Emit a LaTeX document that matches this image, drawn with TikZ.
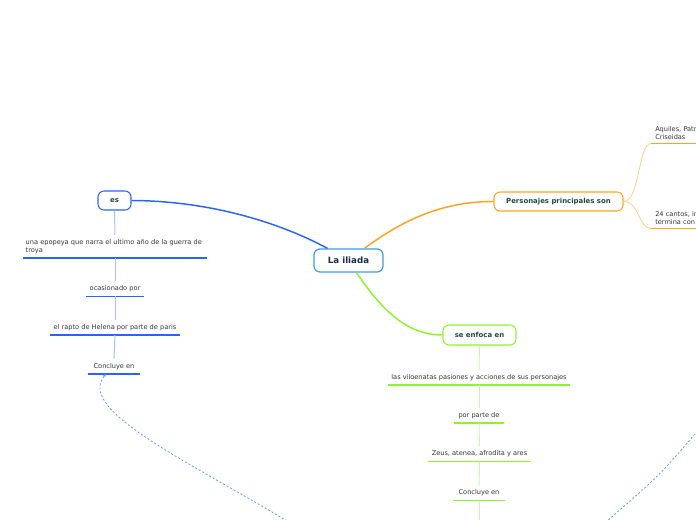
\documentclass[tikz,border=0pt]{standalone}
\usepackage{fontspec}
\setmainfont{DejaVu Sans}
\usetikzlibrary{arrows.meta}
\definecolor{cblue}{HTML}{2962FF}
\definecolor{lblue}{HTML}{A9C2FF}
\definecolor{corange}{HTML}{FFA21F}
\definecolor{lorange}{HTML}{FFCF80}
\definecolor{cgreen}{HTML}{8CF52A}
\definecolor{lgreen}{HTML}{C9F7A3}
\definecolor{cmain}{HTML}{3D9BE0}
\definecolor{tmain}{HTML}{1B2A4A}
\definecolor{tbold}{HTML}{1E4A3C}
\definecolor{tnorm}{HTML}{333333}
\definecolor{cdash}{HTML}{5C9EEB}
\begin{document}
\begin{tikzpicture}[x=0.75pt,y=-0.75pt,
 topic/.style={draw, rounded corners=4.5pt, line width=0.8pt, fill=white,
   font=\fontsize{5.2}{6}\selectfont\bfseries, text=tbold, inner sep=0pt, minimum height=14.25pt},
 sub/.style={font=\fontsize{4.95}{6.2}\selectfont, text=tnorm, anchor=south,
   inner xsep=0pt, inner ysep=3pt, text height=3.8pt, text depth=1.2pt},
 subml/.style={font=\fontsize{4.95}{6}\selectfont, text=tnorm, align=left, inner ysep=3pt},
 uline/.style={line width=1.1pt},
 conn/.style={line width=0.75pt},
 dashl/.style={cdash, line width=0.6pt, dash pattern=on 1.5pt off 1.5pt}
]
\useasboundingbox (0,0) rectangle (696,520);

% central and topics
\node[topic, draw=cmain, line width=0.9pt, text=tmain, minimum width=51.75pt, minimum height=17.25pt,
  font=\fontsize{6.5}{7}\selectfont\bfseries] (main) at (348.5,260.5) {La iliada};
\node[topic, draw=cblue, minimum width=24.75pt] (es) at (114.5,200.5) {es};
\node[topic, draw=corange, minimum width=96.75pt] (per) at (558.5,201.5) {Personajes principales son};
\node[topic, draw=cgreen, minimum width=54.75pt, minimum height=15pt] (enf) at (479.5,335) {se enfoca en};

% left branch
\node[subml, anchor=south, text width=134pt, inner xsep=2pt] (b1) at (115,258) {una epopeya que narra el ultimo año de la guerra de\\troya};
\node[sub, minimum width=43.5pt] (b2) at (115,296.5) {ocasionado por};
\node[sub, minimum width=97.5pt] (b3) at (115,335) {el rapto de Helena por parte de paris};
\node[sub, minimum width=39pt] (b4) at (114,374) {Concluye en};
\foreach \n in {b1,b2,b3,b4} \draw[uline, cblue] (\n.south west) -- (\n.south east);
\draw[conn, lblue] (es.south) -- (b1.north);
\draw[conn, lblue] (b1.south) -- (b2.north);
\draw[conn, lblue] (b2.south) -- (b3.north);
\draw[conn, lblue] (b3.south) -- (b4.north);

% green branch
\node[sub, minimum width=136.5pt] (g1) at (479,385) {las viloenatas pasiones y acciones de sus personajes};
\node[sub, minimum width=37.5pt] (g2) at (479,423) {por parte de};
\node[sub, minimum width=77.25pt] (g3) at (479.5,461.5) {Zeus, atenea, afrodita y ares};
\node[sub, minimum width=39pt] (g4) at (479,500.5) {Concluye en};
\coordinate (gend) at (479,521);
\foreach \n in {g1,g2,g3,g4} \draw[uline, cgreen] (\n.south west) -- (\n.south east);
\draw[conn, lgreen] (enf.south) -- (g1.north);
\draw[conn, lgreen] (g1.south) -- (g2.north);
\draw[conn, lgreen] (g2.south) -- (g3.north);
\draw[conn, lgreen] (g3.south) -- (g4.north);
\draw[conn, lgreen] (g4.south) -- (gend);

% orange branch (cut at the right edge, as in the reference)
\node[subml, anchor=south west, text width=60pt, inner xsep=3pt] (o1) at (651,143.5) {Aquiles, Patr\\Criseidas};
\node[subml, anchor=south west, text width=60pt, inner xsep=3pt] (o2) at (651,228.5) {24 cantos, in\\termina con};
\draw[uline, corange] (o1.south west) -- (o1.south east);
\draw[uline, corange] (o2.south west) -- (o2.south east);
\draw[lorange, line width=0.6pt] (per.east) .. controls (640,201.5) and (638,143.5) .. (o1.south west);
\draw[lorange, line width=0.6pt] (per.east) .. controls (640,201.5) and (638,228.5) .. (o2.south west);

% main connectors
\draw[cblue, line width=1.1pt] (es.east) .. controls (220,201) and (290,228) .. ([xshift=-15.75pt]main.north);
\draw[corange, line width=1.1pt] ([xshift=12pt]main.north) .. controls (400,222) and (440,201.5) .. (per.west);
\draw[cgreen, line width=1.1pt] ([xshift=6pt]main.south) .. controls (385,315) and (410,335) .. (enf.west);

% dashed relation
\coordinate (dl) at (287,521);
\coordinate (dr1) at (700,428);
\coordinate (dr2) at (606,522);
\draw[dashl, -{Stealth[length=2.5pt,width=2.5pt]}] (dl) .. controls (190,462) and (75,410) .. ([xshift=-6pt]b4.south);
\draw[dashl] (dr1) .. controls (660,475) .. (dr2);
\end{tikzpicture}
\end{document}
